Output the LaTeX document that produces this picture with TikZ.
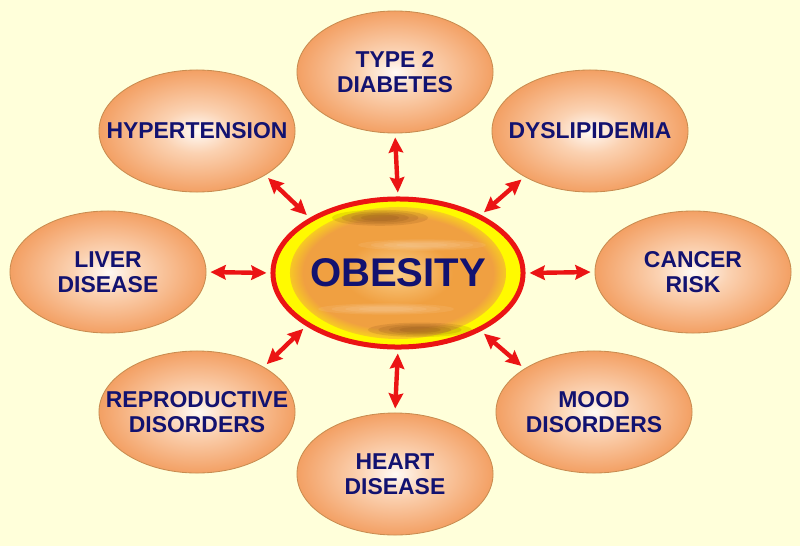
\documentclass[tikz,border=0pt]{standalone}
\usepackage{fontspec}
\setmainfont{Liberation Sans}
\usetikzlibrary{shapes.geometric,arrows.meta}
\definecolor{bgyellow}{RGB}{255,255,218}
\definecolor{navytext}{RGB}{18,18,112}
\definecolor{peachcore}{RGB}{255,250,245}
\definecolor{peachmid}{RGB}{251,210,178}
\definecolor{peachedge}{RGB}{243,160,100}
\definecolor{peachline}{RGB}{200,140,80}
\definecolor{ringred}{RGB}{235,20,20}
\definecolor{ringyellow}{RGB}{255,250,0}
\definecolor{blobcore}{RGB}{250,205,135}
\definecolor{blobbody}{RGB}{240,160,65}
\definecolor{streakbrown}{RGB}{110,60,10}
\pgfdeclareradialshading{peach}{\pgfpoint{0bp}{0bp}}{color(0bp)=(peachcore); color(9bp)=(peachmid); color(25bp)=(peachedge); color(50bp)=(peachedge)}
\pgfdeclareradialshading{blob}{\pgfpoint{0bp}{0bp}}{color(0bp)=(blobcore); color(11bp)=(blobbody); color(19bp)=(blobbody); color(25bp)=(ringyellow); color(50bp)=(ringyellow)}
\tikzset{
  sat/.style={ellipse, minimum width=4.9cm, minimum height=3.05cm,
    inner xsep=-1cm, inner ysep=0pt,
    shading=peach, draw=peachline, line width=0.6pt, text=navytext, align=center,
    font=\bfseries\fontsize{16.3}{17.8}\selectfont},
  core/.style={ellipse, minimum width=6.25cm, minimum height=3.7cm,
    inner xsep=-1cm, inner ysep=0pt,
    fill=ringyellow, draw=ringred, line width=0.125cm, text=navytext,
    font=\bfseries\fontsize{28.5}{30}\selectfont,
    path picture={
      \shade[shading=blob] (path picture bounding box.center)
        ellipse [x radius=2.7cm, y radius=1.65cm];
      \foreach \s in {1,0.8,0.6,0.4}{
        \fill[streakbrown,opacity=0.14] (path picture bounding box.center) ++(-0.45cm,1.38cm)
          ellipse [x radius=\s*1.2cm, y radius=\s*0.2cm];
        \fill[streakbrown,opacity=0.14] (path picture bounding box.center) ++(0.55cm,-1.42cm)
          ellipse [x radius=\s*1.3cm, y radius=\s*0.18cm];
        \fill[white,opacity=0.08] (path picture bounding box.center) ++(0.6cm,0.7cm)
          ellipse [x radius=\s*1.6cm, y radius=\s*0.14cm];
        \fill[white,opacity=0.08] (path picture bounding box.center) ++(-0.3cm,-0.9cm)
          ellipse [x radius=\s*1.7cm, y radius=\s*0.14cm];}}},
  link/.style={draw=ringred, line width=0.11cm,
    {Stealth[length=0.38cm,width=0.36cm,inset=0.05cm]}-{Stealth[length=0.38cm,width=0.36cm,inset=0.05cm]},
    shorten <=0.1cm, shorten >=0.1cm}
}
\begin{document}
\begin{tikzpicture}[x=0.025cm,y=-0.025cm]
%Hintergrund
	\fill[bgyellow] (0,0) rectangle (800,546);
	\useasboundingbox (0,0) rectangle (800,546);
%Mitte
	\draw (398,273) node (obesity)
	  [core]
	  {OBESITY};
%Folgen
	\draw (395,72) node (diabetes)
	  [sat]
	  {TYPE 2\\DIABETES};
	\draw (197,131) node (hyper)
	  [sat]
	  {HYPERTENSION};
	\draw (590,131) node (dyslip)
	  [sat]
	  {DYSLIPIDEMIA};
	\draw (108,272) node (liver)
	  [sat]
	  {LIVER\\DISEASE};
	\draw (693,272) node (cancer)
	  [sat]
	  {CANCER\\RISK};
	\draw (197,412) node (repro)
	  [sat]
	  {REPRODUCTIVE\\DISORDERS};
	\draw (594,412) node (mood)
	  [sat]
	  {MOOD\\DISORDERS};
	\draw (395,474) node (heart)
	  [sat]
	  {HEART\\DISEASE};
%Pfeile
	\draw[link] (obesity.north) -- (diabetes.south);
	\draw[link] (obesity.148) -- (hyper.-33);
	\draw[link] (obesity.35) -- (dyslip.-145);
	\draw[link] (obesity.west) -- (liver.east);
	\draw[link] (obesity.east) -- (cancer.west);
	\draw[link] (obesity.210) -- (repro.34);
	\draw[link] (obesity.-35) -- (mood.148);
	\draw[link] (obesity.south) -- (heart.north);
\end{tikzpicture}
\end{document}
